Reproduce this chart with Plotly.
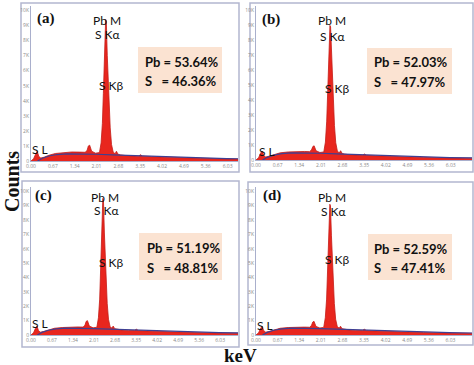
import plotly.graph_objects as go

W, H = 474, 365

# ---------------- data ----------------
energy_kev = [0.00, 0.08, 0.14, 0.19, 0.24, 0.30, 0.40, 0.55, 0.75, 1.00, 1.25, 1.50,
              1.66, 1.72, 1.76, 1.80, 1.86, 1.98, 2.10, 2.15, 2.19, 2.22, 2.26, 2.29,
              2.31, 2.34, 2.37, 2.40, 2.43, 2.47, 2.52, 2.58, 2.62, 2.67, 2.75, 2.90,
              3.10, 3.30, 3.36, 3.42, 3.70, 4.10, 4.60, 5.20, 5.80, 6.40, 6.80]

counts_a = [0, 150, 450, 650, 300, 200, 250, 380, 500, 560, 600, 590,
            580, 700, 1000, 1050, 650, 520, 560, 1200, 2500, 4500, 7000, 9400,
            9300, 7000, 5200, 3600, 2200, 1100, 600, 480, 650, 450, 400, 360,
            330, 320, 420, 320, 290, 250, 210, 180, 150, 130, 120]
counts_b = [0, 150, 450, 600, 300, 200, 250, 370, 480, 540, 580, 570,
            560, 680, 900, 950, 620, 500, 540, 1200, 2600, 4600, 6900, 9000,
            8900, 6900, 5300, 3700, 2300, 1150, 600, 470, 620, 440, 390, 350,
            320, 310, 400, 310, 280, 240, 200, 170, 145, 125, 115]
counts_c = [0, 150, 450, 620, 300, 200, 240, 360, 470, 520, 560, 560,
            550, 680, 950, 1000, 620, 500, 540, 1200, 2500, 4600, 7100, 9500,
            9400, 7100, 5300, 3600, 2200, 1100, 600, 470, 620, 440, 390, 350,
            320, 310, 400, 310, 280, 240, 200, 170, 145, 125, 115]
counts_d = [0, 150, 450, 600, 300, 200, 240, 360, 470, 520, 550, 550,
            540, 660, 900, 950, 600, 490, 530, 1200, 2500, 4500, 6900, 9100,
            9000, 6900, 5200, 3600, 2200, 1100, 600, 470, 610, 440, 390, 350,
            320, 310, 400, 310, 280, 240, 200, 170, 145, 125, 115]

bg_energy = [0.20, 0.35, 0.55, 0.80, 1.10, 1.50, 2.00, 2.50, 3.00, 3.50, 4.00, 4.50,
             5.00, 5.50, 6.00, 6.80]
bg_counts = [0, 180, 330, 430, 480, 480, 450, 410, 370, 330, 290, 250,
             215, 185, 160, 135]

panel_labels = ["(a)", "(b)", "(c)", "(d)"]
pb_pct = ["53.64", "52.03", "51.19", "52.59"]
s_pct = ["46.36", "47.97", "48.81", "47.41"]
peak_labels = ["Pb M", "S Kα", "S Kβ", "S L"]

x_tick_vals = [0.00, 0.67, 1.34, 2.01, 2.68, 3.35, 4.02, 4.69, 5.36, 6.03]
x_tick_text = ["0.00", "0.67", "1.34", "2.01", "2.68", "3.35", "4.02", "4.69", "5.36", "6.03"]
y_tick_vals = [0, 1000, 2000, 3000, 4000, 5000, 6000, 7000, 8000, 9000, 10000]
y_tick_text = ["0", "1K", "2K", "3K", "4K", "5K", "6K", "7K", "8K", "9K", "10K"]

# ---------------- layout helpers (pixel -> paper) ----------------
def px(x):
    return x / W

def py(y):
    return 1 - y / H

# plot areas in pixels: (x0, x1, ytop, ybottom), x-range
areas = [
    (31, 238, 6, 161, [0, 6.35]),
    (256, 472, 6, 160, [0, 6.69]),
    (31, 238, 187, 335, [0, 6.6]),
    (256, 472, 187, 335, [0, 6.7]),
]
frames = [(21, 239, 3, 172), (250, 473, 3, 172), (22, 239, 181, 347), (248, 473, 182, 345)]

lab_pos = [(46, 18), (271, 19), (43, 195), (272, 195)]
peak_pos = [
    [(107, 20), (108, 35), (111, 85), (40, 149)],
    [(332, 21), (333, 36), (337, 88), (267, 151)],
    [(105, 197), (107, 211), (111, 262), (40, 323)],
    [(332, 197), (334, 212), (337, 259), (265, 325)],
]
boxes = [(138, 47, 222, 93), (367, 48, 452, 94), (139, 233, 222, 280), (368, 234, 452, 280)]
text_lines = [(143, 62, 81), (372, 62, 82), (145, 248, 268), (372, 249, 268)]

all_counts = [counts_a, counts_b, counts_c, counts_d]

fig = go.Figure()
layout = dict(width=W, height=H, margin=dict(l=0, r=0, t=0, b=0, pad=0), autosize=False,
              paper_bgcolor="white", plot_bgcolor="white", showlegend=False)
shapes = []
annotations = []

for i, (x0, x1, yt, yb, xr) in enumerate(areas):
    n = "" if i == 0 else str(i + 1)
    xa, ya = "x" + n, "y" + n
    layout["xaxis" + n] = dict(domain=[px(x0), px(x1)], range=xr, anchor=ya,
                               showgrid=False, zeroline=False, showline=True,
                               linecolor="#a9afcc", linewidth=1, automargin=False,
                               tickvals=x_tick_vals, ticktext=x_tick_text,
                               tickfont=dict(size=5, color="#8a8a8a"), ticks="", ticklen=0)
    layout["yaxis" + n] = dict(domain=[py(yb), py(yt)], range=[0, 10300], anchor=xa,
                               showgrid=False, zeroline=False, showline=True,
                               linecolor="#a9afcc", linewidth=1, automargin=False,
                               tickvals=y_tick_vals, ticktext=y_tick_text,
                               tickfont=dict(size=5, color="#8a8a8a"), ticks="")
    fig.add_trace(go.Scatter(x=energy_kev, y=all_counts[i], mode="lines", fill="tozeroy",
                             fillcolor="#e8261e", line=dict(color="#c41c16", width=0.8),
                             xaxis=xa, yaxis=ya, hoverinfo="skip"))
    fig.add_trace(go.Scatter(x=bg_energy, y=bg_counts, mode="lines",
                             line=dict(color="#3f3f92", width=1.2),
                             xaxis=xa, yaxis=ya, hoverinfo="skip"))
    fx0, fx1, fy0, fy1 = frames[i]
    shapes.append(dict(type="rect", xref="paper", yref="paper",
                       x0=px(fx0), x1=px(fx1), y0=py(fy1), y1=py(fy0),
                       line=dict(color="#b3b6d0", width=1.5), fillcolor="rgba(0,0,0,0)",
                       layer="below"))
    bx0, by0, bx1, by1 = boxes[i]
    shapes.append(dict(type="rect", xref="paper", yref="paper",
                       x0=px(bx0), x1=px(bx1), y0=py(by1), y1=py(by0),
                       line=dict(width=0), fillcolor="#fbe3d2", layer="below"))
    tx, ty1, ty2 = text_lines[i]
    annotations.append(dict(xref="paper", yref="paper", x=px(tx), y=py(ty1),
                            xanchor="left", yanchor="middle", showarrow=False,
                            text="<b>Pb = " + pb_pct[i] + "%</b>",
                            font=dict(family="Lato", size=13, color="#111")))
    annotations.append(dict(xref="paper", yref="paper", x=px(tx), y=py(ty2),
                            xanchor="left", yanchor="middle", showarrow=False,
                            text="<b>S\u00a0\u00a0\u00a0= " + s_pct[i] + "%</b>",
                            font=dict(family="Lato", size=13, color="#111")))
    lx, ly = lab_pos[i]
    annotations.append(dict(xref="paper", yref="paper", x=px(lx), y=py(ly),
                            xanchor="center", yanchor="middle", showarrow=False,
                            text="<b>" + panel_labels[i] + "</b>",
                            font=dict(family="Liberation Serif", size=15, color="#111")))
    for k, lbl in enumerate(peak_labels):
        qx, qy = peak_pos[i][k]
        annotations.append(dict(xref="paper", yref="paper", x=px(qx), y=py(qy),
                                xanchor="center", yanchor="middle", showarrow=False,
                                text=lbl, font=dict(family="Lato", size=12, color="#111")))

annotations.append(dict(xref="paper", yref="paper", x=px(12), y=py(182),
                        xanchor="center", yanchor="middle", showarrow=False, textangle=-90,
                        text="<b>Counts</b>",
                        font=dict(family="Liberation Serif", size=20, color="#111")))
annotations.append(dict(xref="paper", yref="paper", x=px(240), y=py(355),
                        xanchor="center", yanchor="middle", showarrow=False,
                        text="<b>keV</b>",
                        font=dict(family="Liberation Serif", size=19, color="#111")))

layout["shapes"] = shapes
layout["annotations"] = annotations
fig.update_layout(**layout)
fig.write_html("out.html", config={"displayModeBar": False},
               post_script="document.body.style.margin='0';document.body.style.overflow='hidden';")
